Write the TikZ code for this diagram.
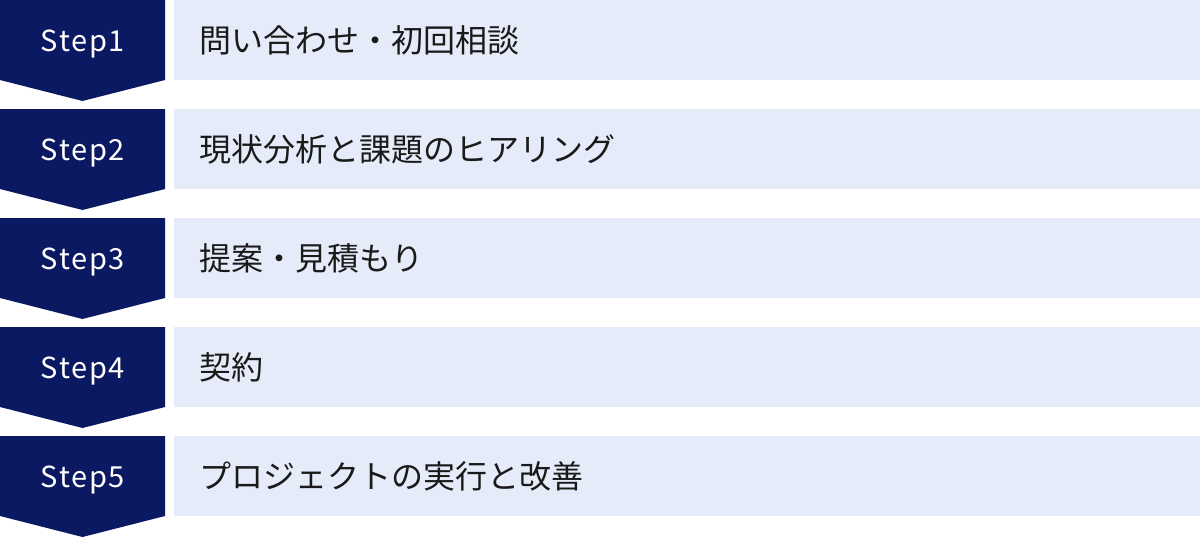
\documentclass[tikz,border=0pt]{standalone}
\usepackage{fontspec}
\setmainfont{Noto Sans}
\newfontfamily\jpfont{Noto Sans CJK JP}
\definecolor{stepnavy}{HTML}{0B1862}
\definecolor{taskblue}{HTML}{E5EBF8}
\definecolor{taskink}{HTML}{1A1A1A}

\begin{document}
\begin{tikzpicture}[x=1pt,y=-1pt,
    stepname/.style={text=white,font=\jpfont\fontsize{29}{29}\selectfont\addfontfeatures{LetterSpace=6}},
    tasktext/.style={anchor=west,text=taskink,font=\jpfont\fontsize{32}{32}\selectfont}]
\useasboundingbox (0,0) rectangle (1200,538);
\foreach \i/\task in {1/{問い合わせ・初回相談},
                      2/{現状分析と課題のヒアリング},
                      3/{提案・見積もり},
                      4/{契約},
                      5/{プロジェクトの実行と改善}}{
    \pgfmathsetmacro\top{(\i-1)*109}
    % chevron and bar
    \fill[stepnavy] (0,\top) -- (165,\top) -- (165,\top+80) -- (82.5,\top+101) -- (0,\top+80) -- cycle;
    \fill[taskblue] (174,\top) rectangle (1200,\top+80);
    \node[stepname] (step\i) at (83,\top+44) {Step\i};
    \node[tasktext] (task\i) at (196,\top+40) {\task};
}
\end{tikzpicture}
\end{document}
